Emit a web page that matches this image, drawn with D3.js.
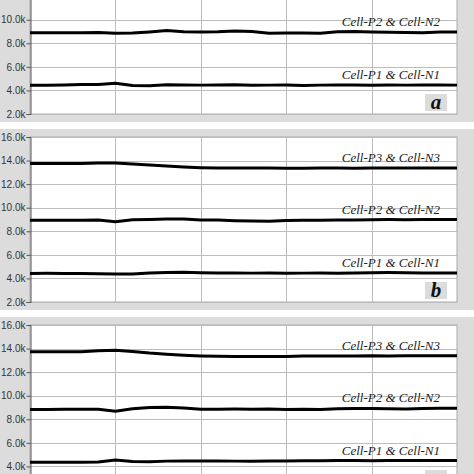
<!DOCTYPE html>
<html>
   <head>
      <script src="https://d3js.org/d3.v7.min.js"></script>
   </head>

   <style>
      body {
         margin: 0;
         background: #ffffff;
      }

      svg text.tick-label {
         font-family: "Liberation Sans", Arial, sans-serif;
         font-size: 10px;
         fill: #333;
      }

      svg text.series-label {
         font-family: "Liberation Serif", "Times New Roman", serif;
         font-style: italic;
         font-size: 13px;
         fill: #222;
      }

      svg text.panel-label {
         font-family: "Liberation Serif", "Times New Roman", serif;
         font-style: italic;
         font-weight: bold;
         font-size: 21px;
         fill: #111;
      }
   </style>
   <body>
      <svg id="svg-container" width="474" height="474"></svg>

      <script>
         let svg = d3.select('#svg-container');

         // x positions (grid units, 5 intervals across the plot)
         let steps = [0, 0.2, 0.4, 0.6, 0.8, 1.0, 1.2, 1.4, 1.6, 1.8, 2.0, 2.2, 2.4,
                      2.6, 2.8, 3.0, 3.2, 3.4, 3.6, 3.8, 4.0, 4.2, 4.4, 4.6, 4.8, 5.0];

         let yTicks = [2000, 4000, 6000, 8000, 10000, 12000, 14000, 16000];
         let xTicks = [0, 1, 2, 3, 4, 5];

         // panel a
         let aP2N2 = [8900, 8900, 8900, 8900, 8910, 8850, 8870, 8960, 9080, 8980, 8950, 8970, 9040,
                      8990, 8860, 8880, 8870, 8860, 8980, 9000, 8960, 8940, 8920, 8900, 8960, 8950];
         let aP1N1 = [4450, 4450, 4460, 4500, 4500, 4600, 4420, 4400, 4480, 4470, 4450, 4460, 4480,
                      4440, 4450, 4470, 4420, 4450, 4470, 4460, 4440, 4460, 4450, 4470, 4460, 4450];

         // panel b
         let bP3N3 = [13750, 13750, 13750, 13760, 13790, 13800, 13700, 13620, 13530, 13450, 13400, 13380, 13370,
                      13360, 13360, 13340, 13350, 13360, 13360, 13350, 13360, 13370, 13360, 13370, 13380, 13380];
         let bP2N2 = [8930, 8930, 8930, 8940, 8950, 8800, 8980, 9000, 9050, 9040, 8960, 8950, 8900,
                      8870, 8860, 8920, 8940, 8930, 8960, 8950, 8970, 8990, 8980, 8990, 8990, 9000];
         let bP1N1 = [4420, 4430, 4420, 4420, 4400, 4380, 4380, 4470, 4500, 4520, 4480, 4460, 4470,
                      4450, 4460, 4440, 4450, 4460, 4430, 4470, 4490, 4500, 4480, 4470, 4460, 4470];

         // panel c
         let cP3N3 = [13720, 13720, 13720, 13740, 13820, 13850, 13760, 13620, 13520, 13440, 13380, 13350, 13330,
                      13320, 13320, 13330, 13360, 13370, 13380, 13380, 13400, 13380, 13390, 13400, 13400, 13400];
         let cP2N2 = [8830, 8840, 8850, 8850, 8860, 8680, 8900, 9000, 9020, 8950, 8860, 8850, 8870,
                      8860, 8880, 8840, 8850, 8820, 8900, 8920, 8910, 8900, 8880, 8920, 8930, 8930];
         let cP1N1 = [4350, 4350, 4360, 4360, 4380, 4550, 4420, 4400, 4450, 4460, 4460, 4470, 4450,
                      4440, 4460, 4470, 4480, 4490, 4500, 4500, 4490, 4500, 4510, 4500, 4510, 4500];

         let panels = [
            {tag: 'a', top: -51, series: [
               {name: 'Cell-P2 & Cell-N2', values: aP2N2},
               {name: 'Cell-P1 & Cell-N1', values: aP1N1}]},
            {tag: 'b', top: 137, series: [
               {name: 'Cell-P3 & Cell-N3', values: bP3N3},
               {name: 'Cell-P2 & Cell-N2', values: bP2N2},
               {name: 'Cell-P1 & Cell-N1', values: bP1N1}]},
            {tag: 'c', top: 325, series: [
               {name: 'Cell-P3 & Cell-N3', values: cP3N3},
               {name: 'Cell-P2 & Cell-N2', values: cP2N2},
               {name: 'Cell-P1 & Cell-N1', values: cP1N1}]}
         ];

         let left = 30;
         let right = 457;
         let plotHeight = 165;
         let frame = 8;
         let pageHeight = 474;

         let x = d3.scaleLinear().domain([0, 5]).range([left, right]);

         panels.forEach((p) => {
            let y = d3.scaleLinear().domain([2000, 16000]).range([p.top + plotHeight, p.top]);
            let g = svg.append('g');

            // only the ticks that land inside the picture
            let shownTicks = yTicks.filter((d) => y(d) > 4 && y(d) < pageHeight - 4);

            // grey panel background
            g.append('rect')
               .attr('x', 0)
               .attr('y', p.top - frame)
               .attr('width', 474)
               .attr('height', plotHeight + 2 * frame)
               .attr('fill', '#dcdcdc');

            // white plot area
            g.append('rect')
               .attr('x', left)
               .attr('y', p.top)
               .attr('width', right - left)
               .attr('height', plotHeight)
               .attr('fill', '#ffffff')
               .attr('stroke', '#a8a8a8')
               .attr('stroke-width', 1);

            // grid lines
            g.selectAll('line.hgrid')
               .data(yTicks)
               .enter()
               .append('line')
               .attr('x1', left)
               .attr('x2', right)
               .attr('y1', (d) => Math.round(y(d)) + 0.5)
               .attr('y2', (d) => Math.round(y(d)) + 0.5)
               .attr('stroke', '#bdbdbd');

            g.selectAll('line.vgrid')
               .data(xTicks.slice(1, 5))
               .enter()
               .append('line')
               .attr('x1', (d) => Math.round(x(d)) + 0.5)
               .attr('x2', (d) => Math.round(x(d)) + 0.5)
               .attr('y1', p.top)
               .attr('y2', p.top + plotHeight)
               .attr('stroke', '#bdbdbd');

            // y axis
            let axis = g.append('g')
               .attr('transform', `translate(${left + 0.5}, 0)`)
               .call(d3.axisLeft(y).tickValues(shownTicks).tickSize(4).tickPadding(1)
                  .tickFormat((d) => (d / 1000).toFixed(1) + 'k'));
            axis.select('.domain').attr('stroke', '#555');
            axis.selectAll('.tick line').attr('stroke', '#555');
            axis.selectAll('.tick text')
               .attr('class', 'tick-label')
               .attr('font-family', null)
               .attr('font-size', null);

            // data lines
            let line = d3.line()
               .x((d, i) => x(steps[i]))
               .y((d) => y(d));

            p.series.forEach((s) => {
               g.append('path')
                  .datum(s.values)
                  .attr('d', line)
                  .attr('fill', 'none')
                  .attr('stroke', '#000')
                  .attr('stroke-width', 3);

               g.append('text')
                  .attr('class', 'series-label')
                  .attr('x', 440)
                  .attr('y', y(s.values[s.values.length - 1]) - 6)
                  .attr('text-anchor', 'end')
                  .text(s.name);
            });

            // panel tag box
            g.append('rect')
               .attr('x', 425)
               .attr('y', p.top + plotHeight - 20)
               .attr('width', 22)
               .attr('height', 17)
               .attr('fill', '#dcdcdc');

            // the tag of the last panel falls below the picture
            if (p.top + plotHeight <= pageHeight) {
               g.append('text')
                  .attr('class', 'panel-label')
                  .attr('x', 436)
                  .attr('y', p.top + plotHeight - 5)
                  .attr('text-anchor', 'middle')
                  .text(p.tag);
            }
         });
      </script>
   </body>
</html>
